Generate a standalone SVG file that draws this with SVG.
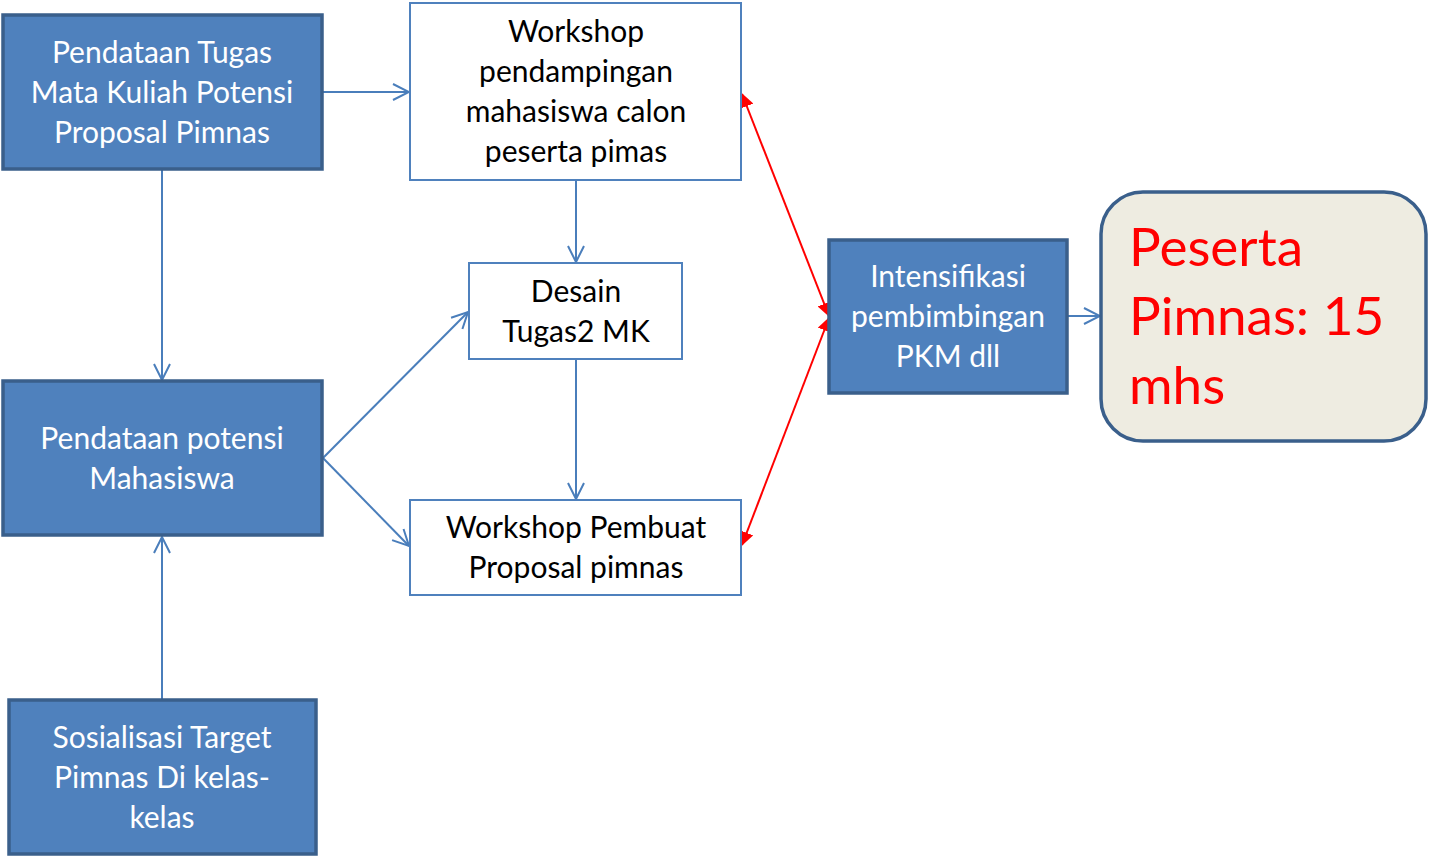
<svg xmlns="http://www.w3.org/2000/svg" width="1436" height="857" viewBox="0 0 1436 857">
<style>
.blue{fill:#4F81BD;stroke:#3A5F8B;stroke-width:3.5}
.white{fill:#FFFFFF;stroke:#4F81BD;stroke-width:2}
.t{font-family:Lato,"Open Sans",sans-serif;font-size:30px;text-anchor:middle}
.tw{fill:#FFFFFF}
.tb{fill:#000000}
.con{stroke:#4A7EBB;stroke-width:2;fill:none}
.red{stroke:#FF0000;stroke-width:2;fill:none}
.big{font-family:Lato,"Open Sans",sans-serif;font-size:53px;fill:#FF0000}
</style>
<defs>
<marker id="open" viewBox="0 0 20 20" refX="18" refY="10" markerWidth="20" markerHeight="20" markerUnits="userSpaceOnUse" orient="auto">
<path d="M2,2 L18,10 L2,18" fill="none" stroke="#4A7EBB" stroke-width="2"/>
</marker>
<marker id="redEnd" viewBox="0 0 14 14" refX="13" refY="7" markerWidth="14" markerHeight="14" markerUnits="userSpaceOnUse" orient="auto">
<path d="M0,0 L14,7 L0,14 Z" fill="#FF0000"/>
</marker>
<marker id="redStart" viewBox="0 0 14 14" refX="1" refY="7" markerWidth="14" markerHeight="14" markerUnits="userSpaceOnUse" orient="auto">
<path d="M14,0 L0,7 L14,14 Z" fill="#FF0000"/>
</marker>
</defs>
<g id="connectors">
<line class="con" x1="322" y1="92" x2="409" y2="92" marker-end="url(#open)"/>
<line class="con" x1="162" y1="170" x2="162" y2="380" marker-end="url(#open)"/>
<line class="con" x1="162" y1="699" x2="162" y2="537" marker-end="url(#open)"/>
<line class="con" x1="323" y1="458" x2="468" y2="312" marker-end="url(#open)"/>
<line class="con" x1="323" y1="458" x2="409" y2="546" marker-end="url(#open)"/>
<line class="con" x1="576" y1="181" x2="576" y2="262" marker-end="url(#open)"/>
<line class="con" x1="576" y1="360" x2="576" y2="499" marker-end="url(#open)"/>
<line class="con" x1="1068" y1="316" x2="1100" y2="316" marker-end="url(#open)"/>
<line class="red" x1="742" y1="94" x2="829" y2="316" marker-start="url(#redStart)" marker-end="url(#redEnd)"/>
<line class="red" x1="829" y1="318" x2="742" y2="545" marker-start="url(#redStart)" marker-end="url(#redEnd)"/>
</g>
<g id="n1">
<rect class="blue" x="3" y="15" width="319" height="154"/>
<text class="t tw" x="162" y="63">Pendataan Tugas</text>
<text class="t tw" x="162" y="103">Mata Kuliah Potensi</text>
<text class="t tw" x="162" y="143">Proposal Pimnas</text>
</g>
<g id="n2">
<rect class="white" x="410" y="3" width="331" height="177"/>
<text class="t tb" x="576" y="42">Workshop</text>
<text class="t tb" x="576" y="82">pendampingan</text>
<text class="t tb" x="576" y="122">mahasiswa calon</text>
<text class="t tb" x="576" y="162">peserta pimas</text>
</g>
<g id="n3">
<rect class="white" x="469" y="263" width="213" height="96"/>
<text class="t tb" x="576" y="302">Desain</text>
<text class="t tb" x="576" y="342">Tugas2 MK</text>
</g>
<g id="n4">
<rect class="white" x="410" y="500" width="331" height="95"/>
<text class="t tb" x="576" y="538">Workshop Pembuat</text>
<text class="t tb" x="576" y="578">Proposal pimnas</text>
</g>
<g id="n5">
<rect class="blue" x="3" y="381" width="319" height="154"/>
<text class="t tw" x="162" y="449">Pendataan potensi</text>
<text class="t tw" x="162" y="489">Mahasiswa</text>
</g>
<g id="n6">
<rect class="blue" x="9" y="700" width="307" height="154"/>
<text class="t tw" x="162" y="748">Sosialisasi Target</text>
<text class="t tw" x="162" y="788">Pimnas Di kelas-</text>
<text class="t tw" x="162" y="828">kelas</text>
</g>
<g id="n7">
<rect class="blue" x="829" y="240" width="238" height="153"/>
<text class="t tw" x="948" y="287">Intensifikasi</text>
<text class="t tw" x="948" y="327">pembimbingan</text>
<text class="t tw" x="948" y="367">PKM dll</text>
</g>
<g id="n8">
<rect x="1101" y="192" width="325" height="249" rx="42" ry="42" fill="#EEECE1" stroke="#3A5F8B" stroke-width="3.5"/>
<text class="big" x="1129" y="266">Peserta</text>
<text class="big" x="1129" y="335">Pimnas: 15</text>
<text class="big" x="1129" y="404">mhs</text>
</g>
</svg>
